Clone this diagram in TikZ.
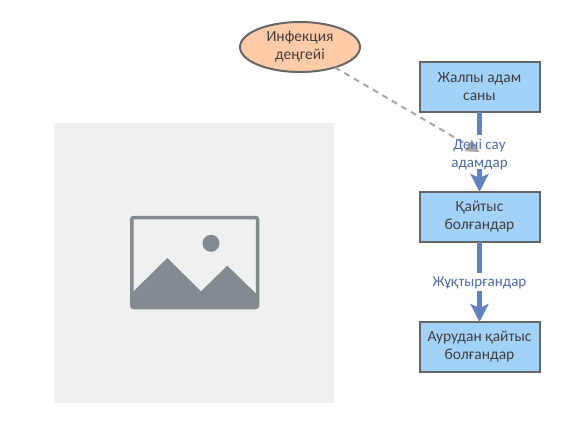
\documentclass[tikz,border=0pt]{standalone}
\usepackage{fontspec}
\setmainfont{Carlito}
\usetikzlibrary{arrows.meta,positioning,shapes.geometric}

\definecolor{boxblue}{HTML}{A3D2F8}
\definecolor{ovalpeach}{HTML}{FFCBA8}
\definecolor{edgeblue}{HTML}{6383BE}
\definecolor{labelblue}{HTML}{4F6BA6}
\definecolor{linegray}{HTML}{666666}
\definecolor{dashgray}{HTML}{A8A8A8}
\definecolor{picbg}{HTML}{EFF1F1}
\definecolor{picgray}{HTML}{838A90}

\tikzset{
  stock/.style={draw=linegray, line width=2pt, fill=boxblue, text=black!75,
    minimum width=120pt, minimum height=50pt, align=center, inner sep=0pt, outer sep=0pt,
    font=\fontsize{15.5}{18}\selectfont},
  rateoval/.style={ellipse, draw=linegray, line width=2pt, fill=ovalpeach, text=black!75,
    minimum width=120pt, minimum height=50pt, align=center, inner sep=0pt, outer sep=0pt,
    font=\fontsize{15.5}{18}\selectfont},
  flow/.style={-{Stealth[length=18pt, width=18pt, inset=4pt]}, edgeblue, line width=5pt},
  flowbg/.style={fill=white, inner sep=0pt},
  flowlabel/.style={text=labelblue, align=center, inner sep=0pt,
    font=\fontsize{15}{18}\selectfont},
  influence/.style={-{Stealth[length=13pt, width=13pt, inset=0pt, fill=dashgray, sep=0pt]}, dashgray,
    line width=2pt, dash pattern=on 6pt off 5pt},
}

\begin{document}
\begin{tikzpicture}[x=1pt, y=-1pt]

\useasboundingbox (0,0) rectangle (568,424);

% Placeholder picture
\fill[picbg] (54,123) rectangle (334,403);
\draw[picgray, line width=3.5pt, rounded corners=2pt] (131.8,217.5) rectangle (257.5,307.5);
\fill[picgray] (131.8,306) -- (131.8,293) -- (167.3,258) -- (201,291.3)
  -- (227.3,265.7) -- (257.5,295) -- (257.5,306) -- cycle;
\fill[picgray] (211,243.3) circle (8.5);

% Stocks
\node[stock] (total) at (479.5,87) {Жалпы адам\\саны};
\node[stock, below=80pt of total] (dead) {Қайтыс\\болғандар};
\node[stock, below=80pt of dead] (recovered) {Аурудан қайтыс\\болғандар};

% Rate
\node[rateoval] (rate) at (300,47) {Инфекция\\деңгейі};

% Flows
\draw[flow] (total) -- (dead) node[pos=0.5, flowbg, minimum width=60pt, minimum height=34pt] (healthybg) {};
\draw[flow] (dead) -- (recovered) node[pos=0.5, flowbg, minimum width=96pt, minimum height=18pt] (infectedbg) {};

% Dashed line ends on the flow, under its label text
\draw[influence] (rate) -- (healthybg.center);

% Flow labels
\node[flowlabel, yshift=-3pt] (healthy) at (healthybg) {Дені сау\\адамдар};
\node[flowlabel, yshift=-1pt] (infected) at (infectedbg) {Жұқтырғандар};

\end{tikzpicture}
\end{document}
